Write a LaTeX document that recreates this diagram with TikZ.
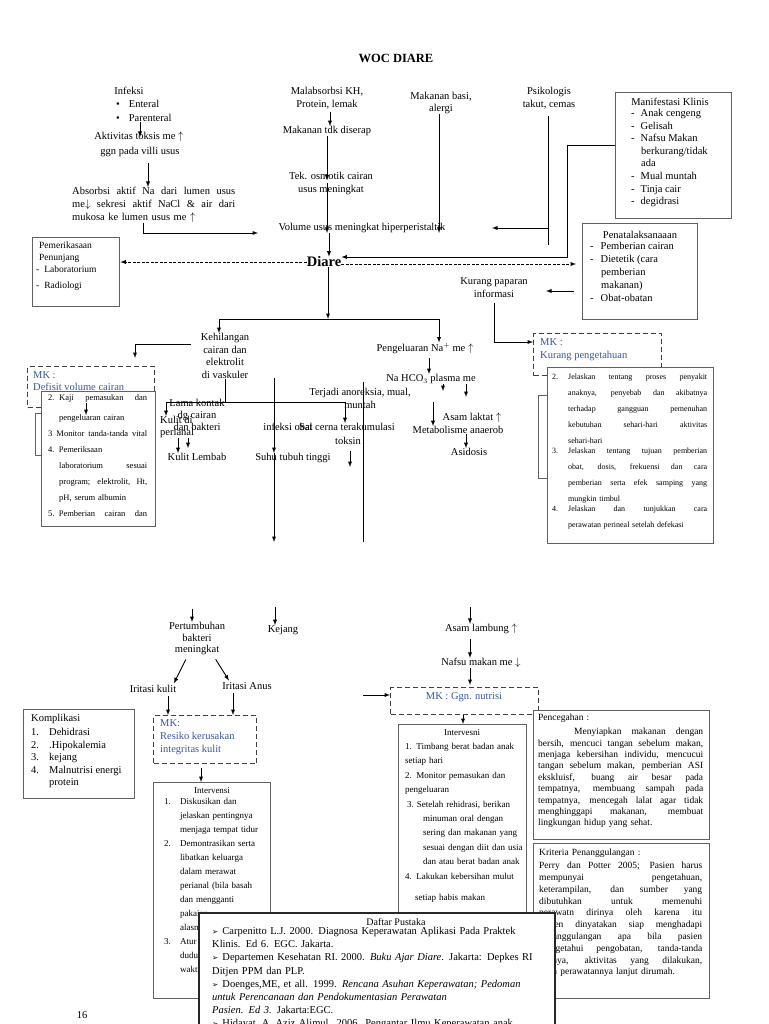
\documentclass[tikz,border=0pt]{standalone}
\usepackage{fontspec}
\setmainfont{Liberation Serif}
\newfontfamily\simbol{DejaVu Sans}

\newlength{\du}
\setlength{\du}{1\unitlength}
\newlength{\lebar}

\definecolor{mkbiru}{rgb}{0.212, 0.341, 0.596}
\definecolor{bingkai}{rgb}{0.380, 0.380, 0.380}

% baris rata kanan-kiri, baris biasa, butir bernomor
\newcommand{\rata}[2][0pt]{\noindent\hspace*{#1}\makebox[\dimexpr\lebar-#1\relax][s]{\spaceskip=0.25em plus 1fil\relax#2}\par}
\newcommand{\kiri}[2][0pt]{\noindent\hspace*{#1}#2\par}
\newcommand{\butir}[3]{\noindent\makebox[#1][l]{#2}\makebox[\dimexpr\lebar-#1\relax][s]{\spaceskip=0.25em plus 1fil\relax#3}\par}
\newcommand{\butirkiri}[3]{\noindent\makebox[#1][l]{#2}#3\par}

\tikzset{
  teks/.style={font=\fontsize{10.5}{12.7}\selectfont, align=center, inner sep=0pt},
  isi/.style={anchor=north west, inner sep=0pt, align=left},
  kotak/.style={draw=bingkai, line width=1.3\du, fill=white, anchor=north west, inner sep=0pt},
  kotakmk/.style={draw=black!75, line width=1.1\du, dash pattern=on 5\du off 3\du, anchor=north west, inner sep=0pt},
  panah/.style={-latex, line width=0.9\du},
  garisan/.style={line width=0.9\du},
  putus/.style={-latex, line width=0.9\du, dash pattern=on 3\du off 1.5\du},
}

\begin{document}
\begin{tikzpicture}
\pgftransformxscale{1.000000}
\pgftransformyscale{-1.000000}
\useasboundingbox (0\du,0\du) rectangle (768\du,1024\du);

% judul
\node[teks, font=\bfseries\fontsize{12.5}{15}\selectfont] (judul) at (396\du,58\du){WOC DIARE};

% infeksi
\node[teks] (infeksi) at (129\du,91\du){Infeksi};
\node[teks, anchor=west] (enteral) at (116\du,104\du){\textbullet\hspace{9\du}Enteral};
\node[teks, anchor=west] (parenteral) at (116\du,118\du){\textbullet\hspace{9\du}Parenteral};
\node[teks] (aktivitas) at (139\du,137\du){Aktivitas toksis me $\uparrow$};
\node[teks] (ggn) at (140\du,152\du){ggn pada villi usus};
\node[isi, text width=163\du, font=\fontsize{10.5}{13}\selectfont] (absorbsi) at (72\du,187\du){%
\setlength{\lebar}{163\du}%
\rata{Absorbsi aktif Na dari lumen usus}
\rata{me$\downarrow$ sekresi aktif NaCl \& air dari}
\kiri{mukosa ke lumen usus me $\uparrow$}};
\draw[panah] (parenteral.south -| 140\du,0\du) -- (aktivitas.center -| 140\du,0\du);
\draw[panah, shorten <=6\du] (ggn.south -| 148\du,0\du) -- (absorbsi.north -| 148\du,0\du);
\coordinate (absbelok) at (143\du,233\du);
\coordinate (absujung) at (258\du,233\du);
\draw[panah] (absorbsi.south -| absbelok) -- (absbelok) -- (absujung);

% malabsorbsi
\node[teks] (malabsorbsi) at (327\du,98\du){Malabsorbsi KH,\\Protein, lemak};
\node[teks] (tdkserap) at (327\du,131\du){Makanan tdk diserap};
\node[teks] (osmotik) at (331\du,183.5\du){Tek. osmotik cairan\\usus meningkat};
\node[teks] (volume) at (362\du,228\du){Volume usus meningkat hiperperistaltik};
\node[teks, font=\bfseries\fontsize{14.5}{17}\selectfont] (diare) at (324\du,262\du){Diare};
\draw[panah, shorten <=3\du] (malabsorbsi.south -| 330\du,0\du) -- (tdkserap.north -| 330\du,0\du);
\draw[panah, shorten >=3\du] (tdkserap.south -| 327\du,0\du) -- (osmotik.center -| 327\du,0\du);
\draw[panah] (osmotik.center -| 327\du,0\du) -- (volume.south -| 327\du,0\du);
\draw[panah] (volume.south -| 329\du,0\du) -- (diare.north -| 329\du,0\du);

% makanan basi, psikologis
\node[teks] (basi) at (441\du,103\du){Makanan basi,\\alergi};
\draw[panah] (basi.south -| 439\du,0\du) -- (volume.south -| 439\du,0\du);
\node[teks] (psikologis) at (549\du,98\du){Psikologis\\takut, cemas};
\coordinate (psibawah) at (548\du,245\du);
\coordinate (psicabang) at (548\du,228\du);
\coordinate (psiujung) at (492\du,228\du);
\draw[garisan, shorten <=7\du] (psikologis.south -| psibawah) -- (psibawah);
\draw[panah] (psicabang) -- (psiujung);

% manifestasi klinis
\node[kotak, minimum width=116\du, minimum height=126\du] (manifestasi) at (615\du,92\du){};
\node[teks] (manifestasijudul) at (670\du,102\du){Manifestasi Klinis};
\node[isi, font=\fontsize{10.5}{12.6}\selectfont] (manifestasiisi) at (631\du,109\du){%
-\hspace{6\du}Anak cengeng\\-\hspace{6\du}Gelisah\\-\hspace{6\du}Nafsu Makan\\
\hspace*{10\du}berkurang/tidak\\\hspace*{10\du}ada\\-\hspace{6\du}Mual muntah\\
-\hspace{6\du}Tinja cair\\-\hspace{6\du}degidrasi};
\coordinate (mkbelok) at (567\du,145\du);
\draw[panah] (manifestasi.west |- mkbelok) -- (mkbelok) |- (diare.east |- 0\du,257\du);

% penatalaksanaan
\node[kotak, minimum width=115\du, minimum height=96\du] (penata) at (582\du,223\du){};
\node[teks] (penatajudul) at (640\du,235\du){Penatalaksanaaan};
\node[isi, font=\fontsize{10.5}{13}\selectfont] (penataisi) at (590\du,242\du){%
-\hspace{7\du}Pemberian cairan\\-\hspace{7\du}Dietetik (cara\\\hspace*{11\du}pemberian\\
\hspace*{11\du}makanan)\\-\hspace{7\du}Obat-obatan};
\draw[putus, shorten >=6\du] (diare.east |- 0\du,264\du) -- (penata.west |- 0\du,264\du);

% pemeriksaan penunjang
\node[kotak, minimum width=87\du, minimum height=69\du] (periksa) at (32\du,237\du){};
\node[isi, font=\fontsize{9.5}{12}\selectfont] (periksaisi) at (36\du,242\du){%
\hspace*{3\du}Pemerikasaan\\\hspace*{3\du}Penunjang\\-\hspace{5\du}Laboratorium\\[4\du]-\hspace{5\du}Radiologi};
\draw[putus] (diare.west) -- (periksa.east |- diare.west);

% kurang pengetahuan
\node[teks] (paparan) at (494\du,287.5\du){Kurang paparan\\informasi};
\coordinate (paparanujung) at (546\du,291\du);
\draw[panah, shorten <=8\du] (penata.west |- paparanujung) -- (paparanujung);
\node[kotakmk, minimum width=128\du, minimum height=42\du] (mkkurang) at (533\du,333\du){};
\node[isi, text=mkbiru, font=\fontsize{10.5}{13}\selectfont] (mkkurangisi) at (540\du,338\du){MK :\\Kurang pengetahuan};
\draw[panah, shorten <=5\du] (paparan.south) |- (mkkurang.west |- 0\du,342\du);
\node[kotak, minimum width=60\du, minimum height=83\du] (kotakbelakang1) at (538\du,395\du){};
\node[kotak, minimum width=166\du, minimum height=176\du] (jelaskan) at (547\du,367\du){};
\node[isi, text width=156\du, font=\fontsize{8}{16}\selectfont] (jelaskanisi) at (552\du,373.5\du){%
\setlength{\lebar}{155\du}%
\butir{16\du}{2.}{Jelaskan tentang proses penyakit}
\rata[16\du]{anaknya, penyebab dan akibatnya}
\rata[16\du]{terhadap gangguan pemenuhan}
\rata[16\du]{kebutuhan sehari-hari aktivitas}
\kiri[16\du]{sehari-hari}\vspace{-6\du}
\butir{16\du}{3.}{Jelaskan tentang tujuan pemberian}
\rata[16\du]{obat, dosis, frekuensi dan cara}
\rata[16\du]{pemberian serta efek samping yang}
\kiri[16\du]{mungkin timbul}\vspace{-6\du}
\butir{16\du}{4.}{Jelaskan dan tunjukkan cara}
\kiri[16\du]{perawatan perineal setelah defekasi}};

% cabang dari diare
\coordinate (diarecabang) at (328\du,319\du);
\node[teks] (kehilangan) at (225\du,356\du){Kehilangan\\cairan dan\\elektrolit\\di vaskuler};
\node[teks] (pengeluaran) at (425\du,348\du){Pengeluaran Na$^+$ me $\uparrow$};
\draw[panah] (diare.south -| diarecabang) -- (diarecabang);
\draw[panah] (diarecabang) -| ([xshift=-6\du]kehilangan.north);
\draw[panah] (diarecabang) -| ([xshift=14\du]pengeluaran.north);

% defisit volume cairan
\node[kotakmk, minimum width=127\du, minimum height=41\du] (mkdefisit) at (27\du,366\du){};
\node[isi, text=mkbiru, font=\fontsize{10.5}{12}\selectfont] (mkdefisitisi) at (33\du,371\du){MK :\\Defisit volume cairan};
\coordinate (defisitbelok) at (135\du,344\du);
\draw[panah, shorten <=10\du, shorten >=8\du] (kehilangan.west |- defisitbelok) -- (defisitbelok) -- (mkdefisit.north -| defisitbelok);
\node[kotak, minimum width=25\du, minimum height=42\du] (kotakbelakang2) at (35\du,413\du){};
\node[kotak, minimum width=114\du, minimum height=135\du] (kaji) at (41\du,391\du){};
\node[isi, text width=99\du, font=\fontsize{8.5}{16}\selectfont] (kajiisi) at (48\du,394\du){%
\setlength{\lebar}{99\du}%
\butir{11\du}{2.}{Kaji pemasukan dan}\vspace{4\du}
\kiri[11\du]{pengeluaran cairan}
\rata{3 Monitor tanda-tanda vital}
\kiri{4. Pemeriksaan}
\rata[11\du]{laboratorium sesuai}
\rata[11\du]{program; elektrolit, Ht,}
\kiri[11\du]{pH, serum albumin}
\rata{5. Pemberian cairan dan}};
\coordinate (kajipanah1) at (86\du,403\du);
\coordinate (kajipanah2) at (86\du,415\du);
\draw[panah] (kajipanah1) -- (kajipanah2);

% kehilangan cairan
\coordinate (khcabang) at (225\du,402\du);
\node[teks, font=\fontsize{10.5}{12}\selectfont] (lamakontak) at (197\du,415\du){Lama kontak\\dg cairan\\dan bakteri};
\node[teks, anchor=west, align=left, font=\fontsize{10.5}{12}\selectfont] (kulitdi) at (160\du,427\du){Kulit di\\perianal};
\node[teks] (kulitlembab) at (197\du,457\du){Kulit Lembab};
\node[teks] (infeksiobat) at (288\du,427\du){infeksi obat};
\node[teks] (sal) at (347\du,427\du){Sal cerna terakumulasi};
\node[teks] (toksin) at (348\du,441\du){toksin};
\node[teks] (suhu) at (293\du,458\du){Suhu tubuh tinggi};
\draw[garisan] (kehilangan.south) -- (khcabang);
\draw[panah] (khcabang) -| (kulitdi.north -| 166\du,0\du);
\draw[panah] (khcabang) -| (sal.north -| 345\du,0\du);
\draw[panah] (kulitdi.south -| 178\du,0\du) -- (kulitlembab.north -| 178\du,0\du);
\draw[panah, shorten >=5\du] (kulitdi.south -| 188\du,0\du) -- (kulitlembab.north -| 188\du,0\du);
\coordinate (toksinujung) at (350\du,467\du);
\draw[panah, shorten <=6\du] (toksin.south -| toksinujung) -- (toksinujung);
\coordinate (vertA) at (274\du,378\du);
\coordinate (vertB) at (274\du,542\du);
\draw[panah] (vertA) -- (suhu.north -| vertA);
\draw[panah] (suhu.north -| vertA) -- (vertB);
\coordinate (vertC) at (363\du,382\du);
\coordinate (vertD) at (363\du,542\du);
\draw[garisan] (vertC) -- (vertD);

% pengeluaran Na
\node[teks] (anoreksia) at (360\du,398.5\du){Terjadi anoreksia, mual,\\muntah};
\node[teks] (nahco) at (431\du,379\du){Na HCO$_3$ plasma me};
\node[teks] (asamlaktat) at (472\du,418\du){Asam laktat $\uparrow$};
\node[teks] (metabolisme) at (458\du,430\du){Metabolisme anaerob};
\node[teks] (asidosis) at (469\du,452\du){Asidosis};
\draw[panah, shorten <=5\du] (pengeluaran.south -| 429\du,0\du) -- (nahco.north -| 429\du,0\du);
\coordinate (nahcoA) at (443\du,391\du);
\coordinate (nahcoB) at (466\du,397\du);
\draw[panah] (nahco.south -| nahcoA) -- (nahcoA);
\draw[panah] (nahco.south -| nahcoB) -- (nahcoB);
\coordinate (metaA) at (433\du,402\du);
\draw[panah] (metaA) -- (metabolisme.north -| metaA);
\draw[panah] (metabolisme.south -| 466\du,0\du) -- (asidosis.north -| 466\du,0\du);

% bagian bawah kiri
\node[teks, font=\fontsize{10.5}{11.5}\selectfont] (pertumbuhan) at (197\du,638.5\du){Pertumbuhan\\bakteri\\meningkat};
\node[teks] (kejang) at (283\du,630\du){Kejang};
\coordinate (pertumbuhanatas) at (192\du,609\du);
\draw[panah] (pertumbuhanatas) -- (pertumbuhan.north -| pertumbuhanatas);
\coordinate (kejangatas) at (275\du,607\du);
\draw[panah] (kejangatas) -- (kejang.north -| kejangatas);
\node[teks] (iritasikulit) at (153\du,689\du){Iritasi kulit};
\node[teks] (iritasianus) at (247\du,686\du){Iritasi Anus};
\draw[panah, shorten <=5\du, shorten >=2\du] ([xshift=-9\du]pertumbuhan.south) -- ([xshift=20\du]iritasikulit.north);
\draw[panah, shorten <=5\du, shorten >=2\du] ([xshift=16\du]pertumbuhan.south) -- ([xshift=-17\du]iritasianus.north);
\node[kotakmk, minimum width=103\du, minimum height=48\du] (mkresiko) at (153\du,715\du){};
\node[isi, text=mkbiru, font=\fontsize{10.5}{13}\selectfont] (mkresikoisi) at (160\du,719\du){MK:\\Resiko kerusakan\\integritas kulit};
\draw[panah, shorten <=3\du] (iritasikulit.south -| 168\du,0\du) -- (mkresiko.north -| 168\du,0\du);
\draw[panah, shorten <=3\du] (iritasianus.south -| 233\du,0\du) -- (mkresiko.north -| 233\du,0\du);
\node[kotak, minimum width=117\du, minimum height=216\du] (intervensi) at (153\du,782\du){};
\draw[panah, shorten <=4\du] (mkresiko.south -| 201\du,0\du) -- (intervensi.north -| 201\du,0\du);
\node[teks, font=\fontsize{9}{11}\selectfont] (intervensijudul) at (212\du,791\du){Intervensi};
\node[isi, text width=100\du, font=\fontsize{9}{14}\selectfont] (intervensiisi) at (164\du,798\du){%
\butirkiri{16\du}{1.}{Diskusikan dan}
\kiri[16\du]{jelaskan pentingnya}
\kiri[16\du]{menjaga tempat tidur}
\butirkiri{16\du}{2.}{Demontrasikan serta}
\kiri[16\du]{libatkan keluarga}
\kiri[16\du]{dalam merawat}
\kiri[16\du]{perianal (bila basah}
\kiri[16\du]{dan mengganti}
\kiri[16\du]{pakaian}
\kiri[16\du]{alasnya}
\butirkiri{16\du}{3.}{Atur}
\kiri[16\du]{duduk}
\kiri[16\du]{waktu}};

% komplikasi
\node[kotak, minimum width=111\du, minimum height=89\du] (komplikasi) at (23\du,709\du){};
\node[isi, font=\fontsize{10.5}{12.6}\selectfont] (komplikasiisi) at (31\du,714\du){%
Komplikasi\\[1.5\du]\makebox[18\du][l]{1.}Dehidrasi\\\makebox[18\du][l]{2.}.Hipokalemia\\
\makebox[18\du][l]{3.}kejang\\\makebox[18\du][l]{4.}Malnutrisi energi\\\hspace*{18\du}protein};

% bagian bawah kanan
\node[teks] (asamlambung) at (481\du,629\du){Asam lambung $\uparrow$};
\node[teks] (nafsu) at (481\du,663\du){Nafsu makan me $\downarrow$};
\coordinate (lambungatas) at (470\du,607\du);
\draw[panah] (lambungatas) -- (asamlambung.north -| lambungatas);
\draw[panah, shorten <=5\du] (asamlambung.south -| lambungatas) -- (nafsu.north -| lambungatas);
\node[kotakmk, minimum width=148\du, minimum height=27\du] (mkgizi) at (390\du,687\du){};
\node[teks, text=mkbiru] (mkgiziisi) at (464\du,697\du){MK : Ggn. nutrisi};
\draw[panah, shorten >=2\du] (nafsu.south -| lambungatas) -- (mkgizi.north -| lambungatas);
\coordinate (giziawal) at (363\du,695\du);
\draw[panah] (giziawal) -- (mkgizi.west |- giziawal);
\node[kotak, minimum width=128\du, minimum height=201\du] (intervesni) at (398\du,724\du){};
\draw[panah] (mkgizi.south -| 463\du,0\du) -- (intervesni.north -| 463\du,0\du);
\node[teks, font=\fontsize{9}{11}\selectfont] (intervesnijudul) at (462\du,733\du){Intervesni};
\node[isi, text width=118\du, font=\fontsize{9}{14.4}\selectfont] (intervesniisi) at (405\du,743\du){%
\kiri{1. Timbang berat badan anak}
\kiri{setiap hari}
\kiri{2. Monitor pemasukan dan}
\kiri{pengeluaran}
\kiri[2\du]{3.\hspace{3\du}Setelah rehidrasi, berikan}
\kiri[18\du]{minuman oral dengan}
\kiri[18\du]{sering dan makanan yang}
\kiri[18\du]{sesuai dengan diit dan usia}
\kiri[18\du]{dan atau berat badan anak}
\kiri{4. Lakukan kebersihan mulut}\vspace{7\du}
\kiri[10\du]{setiap habis makan}};

% pencegahan
\node[kotak, minimum width=176\du, minimum height=129\du] (pencegahan) at (533\du,710\du){};
\node[isi, text width=165\du, font=\fontsize{9.5}{11.4}\selectfont] (pencegahanisi) at (538\du,714\du){%
\setlength{\lebar}{165\du}%
\kiri{Pencegahan :}\vspace{2.5\du}
\rata[36\du]{Menyiapkan makanan dengan}
\rata{bersih, mencuci tangan sebelum makan,}
\rata{menjaga kebersihan individu, mencucui}
\rata{tangan sebelum makan, pemberian ASI}
\rata{ekskluisf, buang air besar pada}
\rata{tempatnya, membuang sampah pada}
\rata{tempatnya, mencegah lalat agar tidak}
\rata{menghinggapi makanan, membuat}
\kiri{lingkungan hidup yang sehat.}};

% kriteria
\node[kotak, minimum width=176\du, minimum height=155\du] (kriteria) at (533\du,843\du){};
\node[isi, text width=163\du, font=\fontsize{9.5}{11.8}\selectfont] (kriteriaisi) at (539\du,849\du){%
\setlength{\lebar}{163\du}%
\kiri{Kriteria Penanggulangan :}\vspace{1\du}
\rata{Perry dan Potter 2005; Pasien harus}
\rata{mempunyai pengetahuan,}
\rata{keterampilan, dan sumber yang}
\rata{dibutuhkan untuk memenuhi}
\rata{perawatn dirinya oleh karena itu}
\rata{pasien dinyatakan siap menghadapi}
\rata{penanggulangan apa bila pasien}
\rata{mengetahui pengobatan, tanda-tanda}
\rata{bahaya, aktivitas yang dilakukan,}
\kiri{serta perawatannya lanjut dirumah.}};

% daftar pustaka
\node[kotak, draw=black!85, line width=1.5\du, minimum width=356\du, minimum height=130\du] (pustaka) at (198\du,912\du){};
\node[teks, font=\fontsize{10}{12}\selectfont] (pustakajudul) at (396\du,922\du){Daftar Pustaka};
\node[isi, text width=336\du, font=\fontsize{10.5}{13.2}\selectfont] (pustakaisi) at (212\du,927\du){%
\kiri{{\simbol\fontsize{7.5}{9}\selectfont ➢}\hspace{4\du}Carpenitto L.J. 2000. Diagnosa Keperawatan Aplikasi Pada Praktek}
\kiri{Klinis. Ed 6. EGC. Jakarta.}
\kiri{{\simbol\fontsize{7.5}{9}\selectfont ➢}\hspace{4\du}Departemen Kesehatan RI. 2000. \textit{Buku Ajar Diare}. Jakarta: Depkes RI}
\kiri{Ditjen PPM dan PLP.}
\kiri{{\simbol\fontsize{7.5}{9}\selectfont ➢}\hspace{4\du}Doenges,ME, et all. 1999. \textit{Rencana Asuhan Keperawatan; Pedoman}}
\kiri{\textit{untuk Perencanaan dan Pendokumentasian Perawatan}}
\kiri{\textit{Pasien. Ed 3.} Jakarta:EGC.}
\kiri{{\simbol\fontsize{7.5}{9}\selectfont ➢}\hspace{4\du}Hidayat, A. Aziz Alimul. 2006. Pengantar Ilmu Keperawatan anak}};

\node[teks] (halaman) at (82\du,1015\du){16};
\end{tikzpicture}
\end{document}
